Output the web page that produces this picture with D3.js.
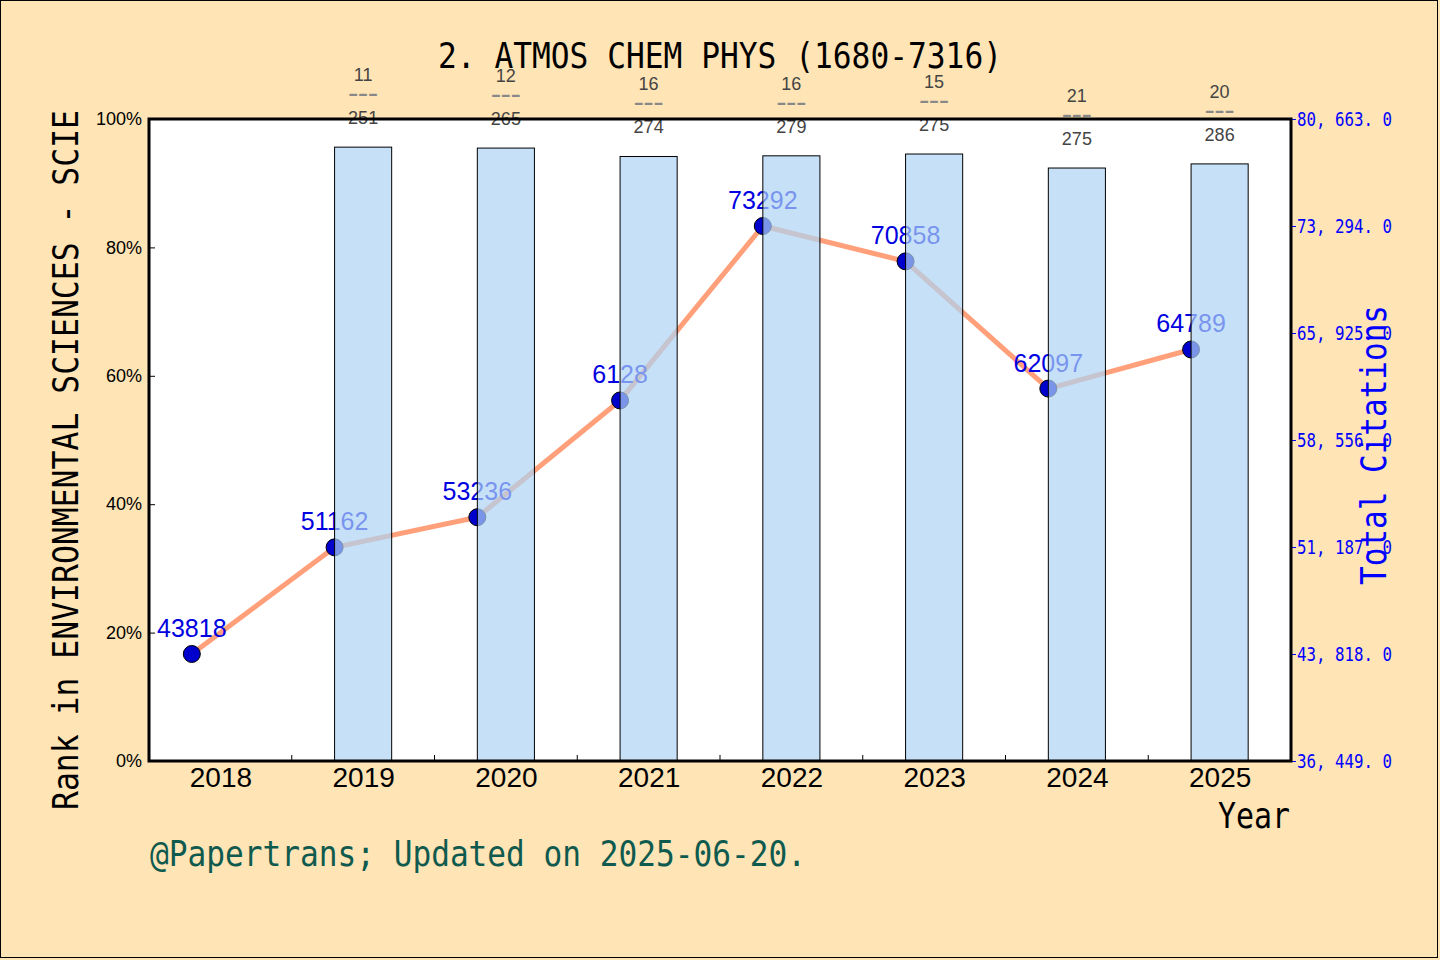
<!DOCTYPE html>
<html>
<head>
<meta charset="utf-8">
<script src="https://cdn.jsdelivr.net/npm/d3@7"></script>
<style>
  html, body { margin: 0; padding: 0; background: #FFE4B5; }
  svg { display: block; }
</style>
</head>
<body>
<div id="chart"></div>
<script>
// Data
const years = [2018, 2019, 2020, 2021, 2022, 2023, 2024, 2025];
const citations = [43818, 51162, 53236, 61280, 73292, 70858, 62097, 64789];
const citeLabels = ["43818", "51162", "53236", "6128", "73292", "70858", "62097", "64789"];

const rankYears = [2019, 2020, 2021, 2022, 2023, 2024, 2025];
const ranks = [11, 12, 16, 16, 15, 21, 20];
const totals = [251, 265, 274, 279, 275, 275, 286];

const pctTicks = [0, 20, 40, 60, 80, 100];
const citeTicks = [36449, 43818, 51187, 58556, 65925, 73294, 80663];

const W = 1440, H = 960;
const margin = { top: 119, right: 149, bottom: 199, left: 149 };
const x0 = margin.left, x1 = W - margin.right;
const y0 = margin.top, y1 = H - margin.bottom;

const mono = "'DejaVu Sans Mono', monospace";
const sans = "'Liberation Sans', Arial, sans-serif";

const svg = d3.select("#chart").append("svg")
    .attr("width", W)
    .attr("height", H);

// figure background + border
svg.append("rect")
    .attr("x", 0.5).attr("y", 0.5)
    .attr("width", W - 3).attr("height", H - 3)
    .attr("fill", "#FFE4B5")
    .attr("stroke", "#000")
    .attr("stroke-width", 1);

// plot background
svg.append("rect")
    .attr("x", x0).attr("y", y0)
    .attr("width", x1 - x0).attr("height", y1 - y0)
    .attr("fill", "#fff");

// scales
const x = d3.scaleLinear().domain([2017.5, 2025.5]).range([x0, x1]);
const y = d3.scaleLinear().domain([0, 100]).range([y1, y0]);
const yR = d3.scaleLinear().domain([citeTicks[0], citeTicks[citeTicks.length - 1]]).range([y1, y0]);
const barW = (x(1) - x(0)) * 0.4;

// citations line (drawn under the bars)
const pts = years.map((yr, i) => ({ year: yr, value: citations[i], label: citeLabels[i] }));
const line = d3.line()
    .x(d => x(d.year) - barW / 2)
    .y(d => yR(d.value));

svg.append("path")
    .datum(pts)
    .attr("d", line)
    .attr("fill", "none")
    .attr("stroke", "#FFA07A")
    .attr("stroke-width", 5)
    .attr("stroke-linejoin", "round");

svg.append("g")
    .selectAll("circle")
    .data(pts)
    .join("circle")
    .attr("cx", d => x(d.year) - barW / 2)
    .attr("cy", d => yR(d.value))
    .attr("r", 8.5)
    .attr("fill", "#0000CD")
    .attr("stroke", "#000")
    .attr("stroke-width", 1);

svg.append("g")
    .selectAll("text")
    .data(pts)
    .join("text")
    .attr("x", d => x(d.year) - barW / 2)
    .attr("y", d => yR(d.value) - 17)
    .attr("text-anchor", "middle")
    .attr("font-family", sans)
    .attr("font-size", 25)
    .attr("fill", "#0000E0")
    .text(d => d.label);

// rank bars (semi transparent, on top of the line)
const bars = rankYears.map((yr, i) => ({
    year: yr, rank: ranks[i], total: totals[i],
    pct: (1 - ranks[i] / totals[i]) * 100
}));

svg.append("g")
    .selectAll("rect")
    .data(bars)
    .join("rect")
    .attr("x", d => x(d.year) - barW / 2)
    .attr("y", d => y(d.pct))
    .attr("width", barW)
    .attr("height", d => y1 - y(d.pct))
    .attr("fill", "rgb(172,211,244)")
    .attr("fill-opacity", 0.7)
    .attr("stroke", "#000")
    .attr("stroke-width", 1);

// rank annotations above bars
const ann = svg.append("g")
    .selectAll("g")
    .data(bars)
    .join("g")
    .attr("transform", d => `translate(${x(d.year)},${y(d.pct)})`);

ann.append("text")
    .attr("y", -66)
    .attr("text-anchor", "middle")
    .attr("font-family", sans)
    .attr("font-size", 18)
    .attr("fill", "#444")
    .text(d => d.rank);

ann.append("text")
    .attr("x", -15)
    .attr("y", -47)
    .attr("font-family", sans)
    .attr("font-size", 18)
    .attr("font-weight", "bold")
    .attr("textLength", 30)
    .attr("lengthAdjust", "spacingAndGlyphs")
    .attr("fill", "#888")
    .text("---");

ann.append("text")
    .attr("y", -23)
    .attr("text-anchor", "middle")
    .attr("font-family", sans)
    .attr("font-size", 18)
    .attr("fill", "#444")
    .text(d => d.total);

// left axis (ticks point inward)
const yAxis = svg.append("g")
    .attr("transform", `translate(${x0},0)`)
    .call(d3.axisRight(y).tickValues(pctTicks).tickSize(6).tickFormat(d => d + "%"));
yAxis.select(".domain").remove();
yAxis.selectAll("line").attr("stroke", "#000");
yAxis.selectAll("text")
    .attr("x", -7)
    .attr("text-anchor", "end")
    .attr("font-family", sans)
    .attr("font-size", 18)
    .attr("fill", "#000");

// right axis (citations)
const fmt = d3.format(",.1f");
const yRAxis = svg.append("g")
    .attr("transform", `translate(${x1},0)`)
    .call(d3.axisRight(yR).tickValues(citeTicks).tickSize(5)
        .tickFormat(d => fmt(d).replace(",", ", ").replace(".", ". ")));
yRAxis.select(".domain").remove();
yRAxis.selectAll("line").attr("stroke", "#0000FF");
yRAxis.selectAll("text")
    .attr("x", 6)
    .attr("font-family", mono)
    .attr("font-size", 19)
    .attr("textLength", 95)
    .attr("lengthAdjust", "spacingAndGlyphs")
    .attr("fill", "#0000FF");

// bottom axis: year labels, minor ticks at half years
const xAxis = svg.append("g")
    .attr("transform", `translate(0,${y1})`)
    .call(d3.axisBottom(x).tickValues(years).tickSize(0).tickPadding(6).tickFormat(d3.format("d")));
xAxis.select(".domain").remove();
xAxis.selectAll("text")
    .attr("font-family", sans)
    .attr("font-size", 28)
    .attr("fill", "#000");

svg.append("g")
    .selectAll("line")
    .data(years.slice(0, -1))
    .join("line")
    .attr("x1", d => x(d + 0.5))
    .attr("x2", d => x(d + 0.5))
    .attr("y1", y1)
    .attr("y2", y1 - 6)
    .attr("stroke", "#000");

// frame
svg.append("rect")
    .attr("x", x0).attr("y", y0)
    .attr("width", x1 - x0).attr("height", y1 - y0)
    .attr("fill", "none")
    .attr("stroke", "#000")
    .attr("stroke-width", 3);

// titles and labels
svg.append("text")
    .attr("x", W / 2).attr("y", 68)
    .attr("text-anchor", "middle")
    .attr("font-family", mono)
    .attr("font-size", 36)
    .attr("textLength", 564)
    .attr("lengthAdjust", "spacingAndGlyphs")
    .attr("fill", "#000")
    .text("2. ATMOS CHEM PHYS (1680-7316)");

svg.append("text")
    .attr("transform", `translate(78,460) rotate(-90)`)
    .attr("text-anchor", "middle")
    .attr("font-family", mono)
    .attr("font-size", 36)
    .attr("textLength", 700)
    .attr("lengthAdjust", "spacingAndGlyphs")
    .attr("fill", "#000")
    .text("Rank in ENVIRONMENTAL SCIENCES - SCIE");

svg.append("text")
    .attr("transform", `translate(1386,445) rotate(-90)`)
    .attr("text-anchor", "middle")
    .attr("font-family", mono)
    .attr("font-size", 36)
    .attr("textLength", 280)
    .attr("lengthAdjust", "spacingAndGlyphs")
    .attr("fill", "#0000FF")
    .text("Total Citations");

svg.append("text")
    .attr("x", 1290).attr("y", 828)
    .attr("text-anchor", "end")
    .attr("font-family", mono)
    .attr("font-size", 36)
    .attr("textLength", 72)
    .attr("lengthAdjust", "spacingAndGlyphs")
    .attr("fill", "#000")
    .text("Year");

svg.append("text")
    .attr("x", 150).attr("y", 866)
    .attr("font-family", mono)
    .attr("font-size", 36)
    .attr("textLength", 656)
    .attr("lengthAdjust", "spacingAndGlyphs")
    .attr("fill", "#0F5A4E")
    .text("@Papertrans; Updated on 2025-06-20.");
</script>
</body>
</html>
